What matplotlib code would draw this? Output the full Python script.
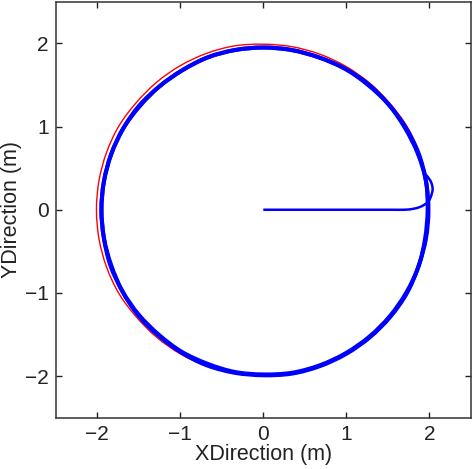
import numpy as np
import matplotlib
matplotlib.use("Agg")
import matplotlib.pyplot as plt
from matplotlib.path import Path
from matplotlib.patches import PathPatch

plt.rcParams["font.family"] = ["Liberation Sans", "DejaVu Sans"]

# 参考圆轨迹：每10度一个角度下的半径 (m)
angle_deg = list(range(0, 360, 10))
ref_radius = [2.00, 2.00, 2.00, 2.00, 1.99, 1.99, 1.99, 1.99, 1.99, 1.99,
              2.00, 2.00, 2.00, 2.00, 2.00, 2.01, 2.01, 2.01, 2.01, 2.01,
              2.01, 2.01, 2.00, 2.00, 2.00, 2.00, 1.99, 1.99, 1.99, 1.99,
              2.00, 2.00, 2.00, 2.00, 2.00, 2.00]
# 实际轨迹（两圈）每10度的半径
lap1_radius = [1.99, 1.99, 1.99, 1.98, 1.97, 1.97, 1.96, 1.95, 1.95, 1.95,
               1.95, 1.95, 1.94, 1.94, 1.95, 1.95, 1.95, 1.95, 1.95, 1.95,
               1.95, 1.96, 1.97, 1.97, 1.98, 1.99, 1.99, 1.99, 2.00, 2.00,
               2.00, 2.00, 2.00, 2.00, 1.99, 1.99]
lap2_radius = [1.98, 1.99, 1.98, 1.97, 1.97, 1.96, 1.96, 1.95, 1.95, 1.95,
               1.95, 1.95, 1.94, 1.94, 1.94, 1.95, 1.95, 1.95, 1.95, 1.95,
               1.96, 1.96, 1.96, 1.96, 1.97, 1.97, 1.98, 1.98, 1.99, 1.99,
               1.99, 1.99, 1.99, 1.99, 1.99, 1.98]
# 起步段：从原点出发并汇入圆周
start_x = [0.0, 0.5, 1.0, 1.5, 1.70, 1.80, 1.88, 1.94, 1.99, 2.02, 2.04, 2.03, 2.00, 1.96]
start_y = [0.0, 0.0, 0.0, 0.0, 0.00, 0.01, 0.03, 0.06, 0.10, 0.16, 0.24, 0.31, 0.37, 0.42]


def smooth_path(x, y, closed):
    # 用三次贝塞尔曲线平滑连接各点
    p = np.column_stack([x, y])
    n = len(p)
    verts = [p[0]]
    codes = [Path.MOVETO]
    last = n if closed else n - 1
    for i in range(last):
        p0 = p[(i - 1) % n] if (closed or i > 0) else p[i]
        p1 = p[i % n]
        p2 = p[(i + 1) % n]
        p3 = p[(i + 2) % n] if (closed or i + 2 < n) else p2
        verts += [p1 + (p2 - p0) / 6, p2 - (p3 - p1) / 6, p2]
        codes += [Path.CURVE4] * 3
    return Path(verts, codes)


def polar_xy(radius):
    th = np.deg2rad(angle_deg)
    r = np.array(radius)
    return r * np.cos(th), r * np.sin(th)


fig = plt.figure(figsize=(4.74, 4.69), dpi=100)
ax = fig.add_axes([0.1177, 0.1094, 0.8755, 0.8868])

rx, ry = polar_xy(ref_radius)
ax.add_patch(PathPatch(smooth_path(rx, ry, True), fill=False, edgecolor="red", lw=1.0))

for rad in [lap1_radius, lap2_radius]:
    bx, by = polar_xy(rad)
    ax.add_patch(PathPatch(smooth_path(bx, by, True), fill=False,
                           edgecolor="blue", lw=2.9))
ax.add_patch(PathPatch(smooth_path(start_x, start_y, False), fill=False,
                       edgecolor="blue", lw=1.8))

ax.set_xlim(-2.5, 2.5)
ax.set_ylim(-2.5, 2.5)
ax.set_xticks([-2, -1, 0, 1, 2])
ax.set_yticks([-2, -1, 0, 1, 2])
ax.tick_params(direction="in", length=4, width=1, top=True, right=True,
               labelsize=15, colors="#222222", pad=5)
for s in ax.spines.values():
    s.set_linewidth(1.1)
    s.set_color("#333333")

ax.set_xlabel("XDirection (m)", fontsize=15.5, labelpad=0, color="#222222")
ax.set_ylabel("YDirection (m)", fontsize=15.5, labelpad=2, color="#222222")

fig.savefig("out.png", dpi=100)
